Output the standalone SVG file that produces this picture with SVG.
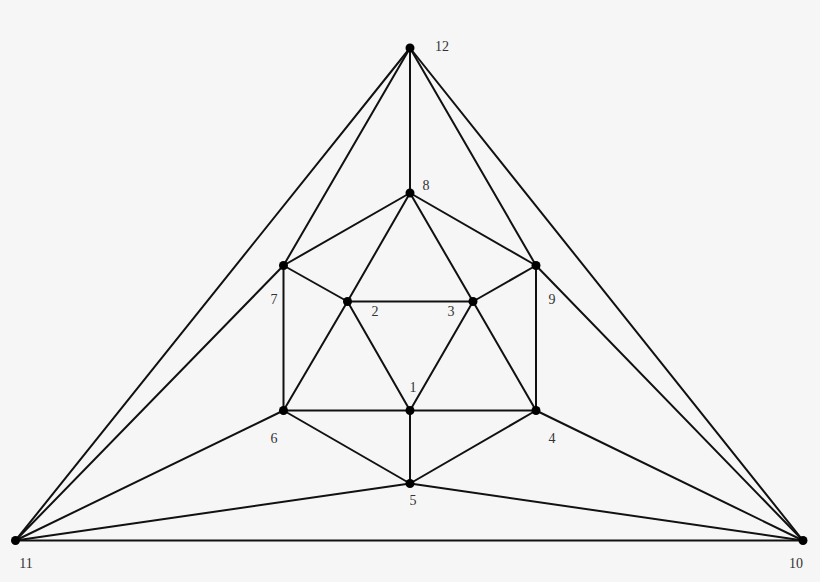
<svg xmlns="http://www.w3.org/2000/svg" width="820" height="582" viewBox="0 0 820 582">
<style>
.e{stroke:#111;stroke-width:2;fill:none;stroke-linecap:round}
.n{fill:#000}
.t{font-family:"Liberation Serif","DejaVu Serif",serif;font-size:14px;fill:#333;text-anchor:middle}
</style>
<rect width="820" height="582" fill="#f6f6f6"/>
<g id="edges" class="e">
<line x1="410" y1="48" x2="410" y2="193"/>
<line x1="410" y1="48" x2="283.5" y2="265.5"/>
<line x1="410" y1="48" x2="536" y2="265.5"/>
<line x1="410" y1="48" x2="15.5" y2="540.5"/>
<line x1="410" y1="48" x2="803" y2="540.5"/>
<line x1="15.5" y1="540.5" x2="803" y2="540.5"/>
<line x1="15.5" y1="540.5" x2="283.5" y2="265.5"/>
<line x1="15.5" y1="540.5" x2="283.5" y2="410.5"/>
<line x1="15.5" y1="540.5" x2="410" y2="483.5"/>
<line x1="803" y1="540.5" x2="536" y2="265.5"/>
<line x1="803" y1="540.5" x2="536" y2="410.5"/>
<line x1="803" y1="540.5" x2="410" y2="483.5"/>
<line x1="410" y1="193" x2="283.5" y2="265.5"/>
<line x1="410" y1="193" x2="536" y2="265.5"/>
<line x1="410" y1="193" x2="347.5" y2="301.5"/>
<line x1="410" y1="193" x2="473" y2="301.5"/>
<line x1="283.5" y1="265.5" x2="347.5" y2="301.5"/>
<line x1="283.5" y1="265.5" x2="283.5" y2="410.5"/>
<line x1="536" y1="265.5" x2="473" y2="301.5"/>
<line x1="536" y1="265.5" x2="536" y2="410.5"/>
<line x1="347.5" y1="301.5" x2="473" y2="301.5"/>
<line x1="347.5" y1="301.5" x2="283.5" y2="410.5"/>
<line x1="347.5" y1="301.5" x2="410" y2="410.5"/>
<line x1="473" y1="301.5" x2="410" y2="410.5"/>
<line x1="473" y1="301.5" x2="536" y2="410.5"/>
<line x1="283.5" y1="410.5" x2="410" y2="410.5"/>
<line x1="410" y1="410.5" x2="536" y2="410.5"/>
<line x1="283.5" y1="410.5" x2="410" y2="483.5"/>
<line x1="410" y1="410.5" x2="410" y2="483.5"/>
<line x1="536" y1="410.5" x2="410" y2="483.5"/>
</g>
<g id="n1"><circle class="n" cx="410" cy="410.5" r="4.5"/><text class="t" x="413" y="392">1</text></g>
<g id="n2"><circle class="n" cx="347.5" cy="301.5" r="4.5"/><text class="t" x="375" y="316">2</text></g>
<g id="n3"><circle class="n" cx="473" cy="301.5" r="4.5"/><text class="t" x="451" y="316">3</text></g>
<g id="n4"><circle class="n" cx="536" cy="410.5" r="4.5"/><text class="t" x="552" y="443">4</text></g>
<g id="n5"><circle class="n" cx="410" cy="483.5" r="4.5"/><text class="t" x="413" y="505">5</text></g>
<g id="n6"><circle class="n" cx="283.5" cy="410.5" r="4.5"/><text class="t" x="274" y="443">6</text></g>
<g id="n7"><circle class="n" cx="283.5" cy="265.5" r="4.5"/><text class="t" x="274" y="304">7</text></g>
<g id="n8"><circle class="n" cx="410" cy="193" r="4.5"/><text class="t" x="426" y="190">8</text></g>
<g id="n9"><circle class="n" cx="536" cy="265.5" r="4.5"/><text class="t" x="552" y="304">9</text></g>
<g id="n10"><circle class="n" cx="803" cy="540.5" r="4.5"/><text class="t" x="796" y="568">10</text></g>
<g id="n11"><circle class="n" cx="15.5" cy="540.5" r="4.5"/><text class="t" x="26" y="568">11</text></g>
<g id="n12"><circle class="n" cx="410" cy="48" r="4.5"/><text class="t" x="442" y="51">12</text></g>
</svg>
